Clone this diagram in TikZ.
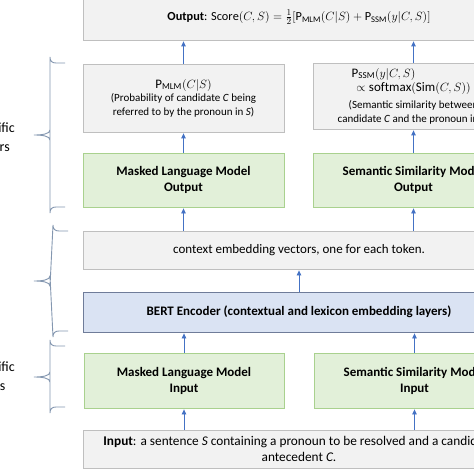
\documentclass[tikz,border=0pt]{standalone}
\usepackage{fontspec}
\setmainfont{Carlito}
\usetikzlibrary{arrows.meta}
\definecolor{gfill}{HTML}{F2F2F2}
\definecolor{gdraw}{HTML}{BFBFBF}
\definecolor{grfill}{HTML}{E2F0D9}
\definecolor{grdraw}{HTML}{A9D18E}
\definecolor{blfill}{HTML}{DAE3F3}
\definecolor{bldraw}{HTML}{6F7C99}
\definecolor{arrowc}{HTML}{4472C4}
\definecolor{bracec}{HTML}{8497B0}
\newcommand{\smalltxt}{\fontsize{11bp}{13bp}\selectfont}
\begin{document}
\begin{tikzpicture}[x=1bp,y=-1bp,
  box/.style={rectangle, draw=gdraw, fill=gfill, line width=0.8bp, inner sep=0pt, align=center,
    font=\fontsize{13bp}{14bp}\selectfont},
  greenbox/.style={box, draw=grdraw, fill=grfill, font=\fontsize{13bp}{16bp}\selectfont\bfseries},
  bluebox/.style={box, draw=bldraw, fill=blfill, font=\fontsize{13bp}{15bp}\selectfont\bfseries},
  arr/.style={draw=arrowc, line width=0.8bp, -{Triangle[length=5bp,width=4.5bp]}, shorten >=1bp},
  bracel/.style={draw=bracec, line width=0.9bp},
  sidetext/.style={anchor=east, align=right, font=\fontsize{14bp}{19bp}\selectfont, inner sep=0pt}
]
\useasboundingbox (0,0) rectangle (474,474);
\fill[white] (0,0) rectangle (474,474);
\clip (0,0) rectangle (474,474);

% boxes
\node[box, minimum width=432bp, minimum height=45bp, font=\fontsize{12.3bp}{14bp}\selectfont] (out) at (299,17.5)
  {\textbf{Output}: $\mathrm{Score}(C,S)=\frac{1}{2}[\mathrm{P}_{\mathrm{MLM}}(C|S)+\mathrm{P}_{\mathrm{SSM}}(y|C,S)]$};
\node[box, minimum width=201bp, minimum height=68bp] (pmlm) at (183.5,98)
  {$\mathrm{P}_{\mathrm{MLM}}(C|S)$\\[-1bp]{\smalltxt(Probability of candidate \textit{C} being}\\{\smalltxt referred to by the pronoun in \textit{S})}};
\node[box, minimum width=201bp, minimum height=66bp] (pssm) at (413.5,96)
  {$\mathrm{P}_{\mathrm{SSM}}(y|C,S)$\hspace*{60bp}\\$\propto\mathrm{softmax}\bigl(\mathrm{Sim}(C,S)\bigr)$\\[3bp]{\smalltxt(Semantic similarity between}\\{\smalltxt candidate \textit{C} and the pronoun in \textit{S})}};
\node[greenbox, minimum width=201bp, minimum height=54bp] (mlmout) at (183.5,180)
  {Masked Language Model\\Output};
\node[greenbox, minimum width=201bp, minimum height=54bp] (ssmout) at (413.5,180)
  {Semantic Similarity Model\\Output};
\node[box, minimum width=432bp, minimum height=38bp] (ctx) at (299,250)
  {context embedding vectors, one for each token.};
\node[bluebox, minimum width=432bp, minimum height=40bp] (bert) at (299,312)
  {BERT Encoder (contextual and lexicon embedding layers)};
\node[greenbox, minimum width=200bp, minimum height=55bp] (mlmin) at (184,380.5)
  {Masked Language Model\\Input};
\node[greenbox, minimum width=201bp, minimum height=55bp] (ssmin) at (414.5,380.5)
  {Semantic Similarity Model\\Input};
\node[box, minimum width=432bp, minimum height=38bp, font=\fontsize{13.3bp}{16bp}\selectfont] (inp) at (299,449)
  {\textbf{Input}: a sentence \textit{S} containing a pronoun to be resolved and a candidate\\antecedent \textit{C}.};

% arrows
\draw[arr] (mlmin.south |- inp.north) -- (mlmin.south);
\draw[arr] (ssmin.south |- inp.north) -- (ssmin.south);
\draw[arr] (mlmin.north) -- (mlmin.north |- bert.south);
\draw[arr] (ssmin.north) -- (ssmin.north |- bert.south);
\draw[arr] (bert.north) -- (ctx.south);
\draw[arr] (mlmout.south |- ctx.north) -- (mlmout.south);
\draw[arr] (ssmout.south |- ctx.north) -- (ssmout.south);
\draw[arr] (mlmout.north) -- (pmlm.south);
\draw[arr] (ssmout.north) -- (pssm.south);
\draw[arr] (pmlm.north) -- (pmlm.north |- out.south);
\draw[arr] (pssm.north) -- (pssm.north |- out.south);

% braces
\coordinate (b1t) at (65,63); \coordinate (b1tip) at (34,135); \coordinate (b1b) at (65,207);
\coordinate (b2t) at (68,231); \coordinate (b2tip) at (34,281); \coordinate (b2b) at (68,331);
\coordinate (b3t) at (65,346); \coordinate (b3tip) at (34,377); \coordinate (b3b) at (65,407);
\foreach \t/\m/\b in {b1t/b1tip/b1b, b2t/b2tip/b2b, b3t/b3tip/b3b}{
  \draw[bracel] (\t) -- ([xshift=-9bp]\t) .. controls ([xshift=-13bp]\t) and ([xshift=-15bp,yshift=2bp]\t) .. ([xshift=-15bp,yshift=6bp]\t)
    -- ([xshift=16bp,yshift=-5bp]\m) .. controls ([xshift=16bp,yshift=-1bp]\m) and ([xshift=8bp]\m) .. (\m)
    .. controls ([xshift=8bp]\m) and ([xshift=16bp,yshift=1bp]\m) .. ([xshift=16bp,yshift=5bp]\m)
    -- ([xshift=-15bp,yshift=-6bp]\b) .. controls ([xshift=-15bp,yshift=-2bp]\b) and ([xshift=-13bp]\b) .. ([xshift=-9bp]\b) -- (\b);
}
% side labels (cut off at the left edge)
\node[sidetext] (lab1) at (15,138.5) {Task-specific\\layers\hspace*{5bp}};
\node[sidetext] (lab3) at (15,377.5) {Task-specific\\inputs\hspace*{9.5bp}};
\end{tikzpicture}
\end{document}
